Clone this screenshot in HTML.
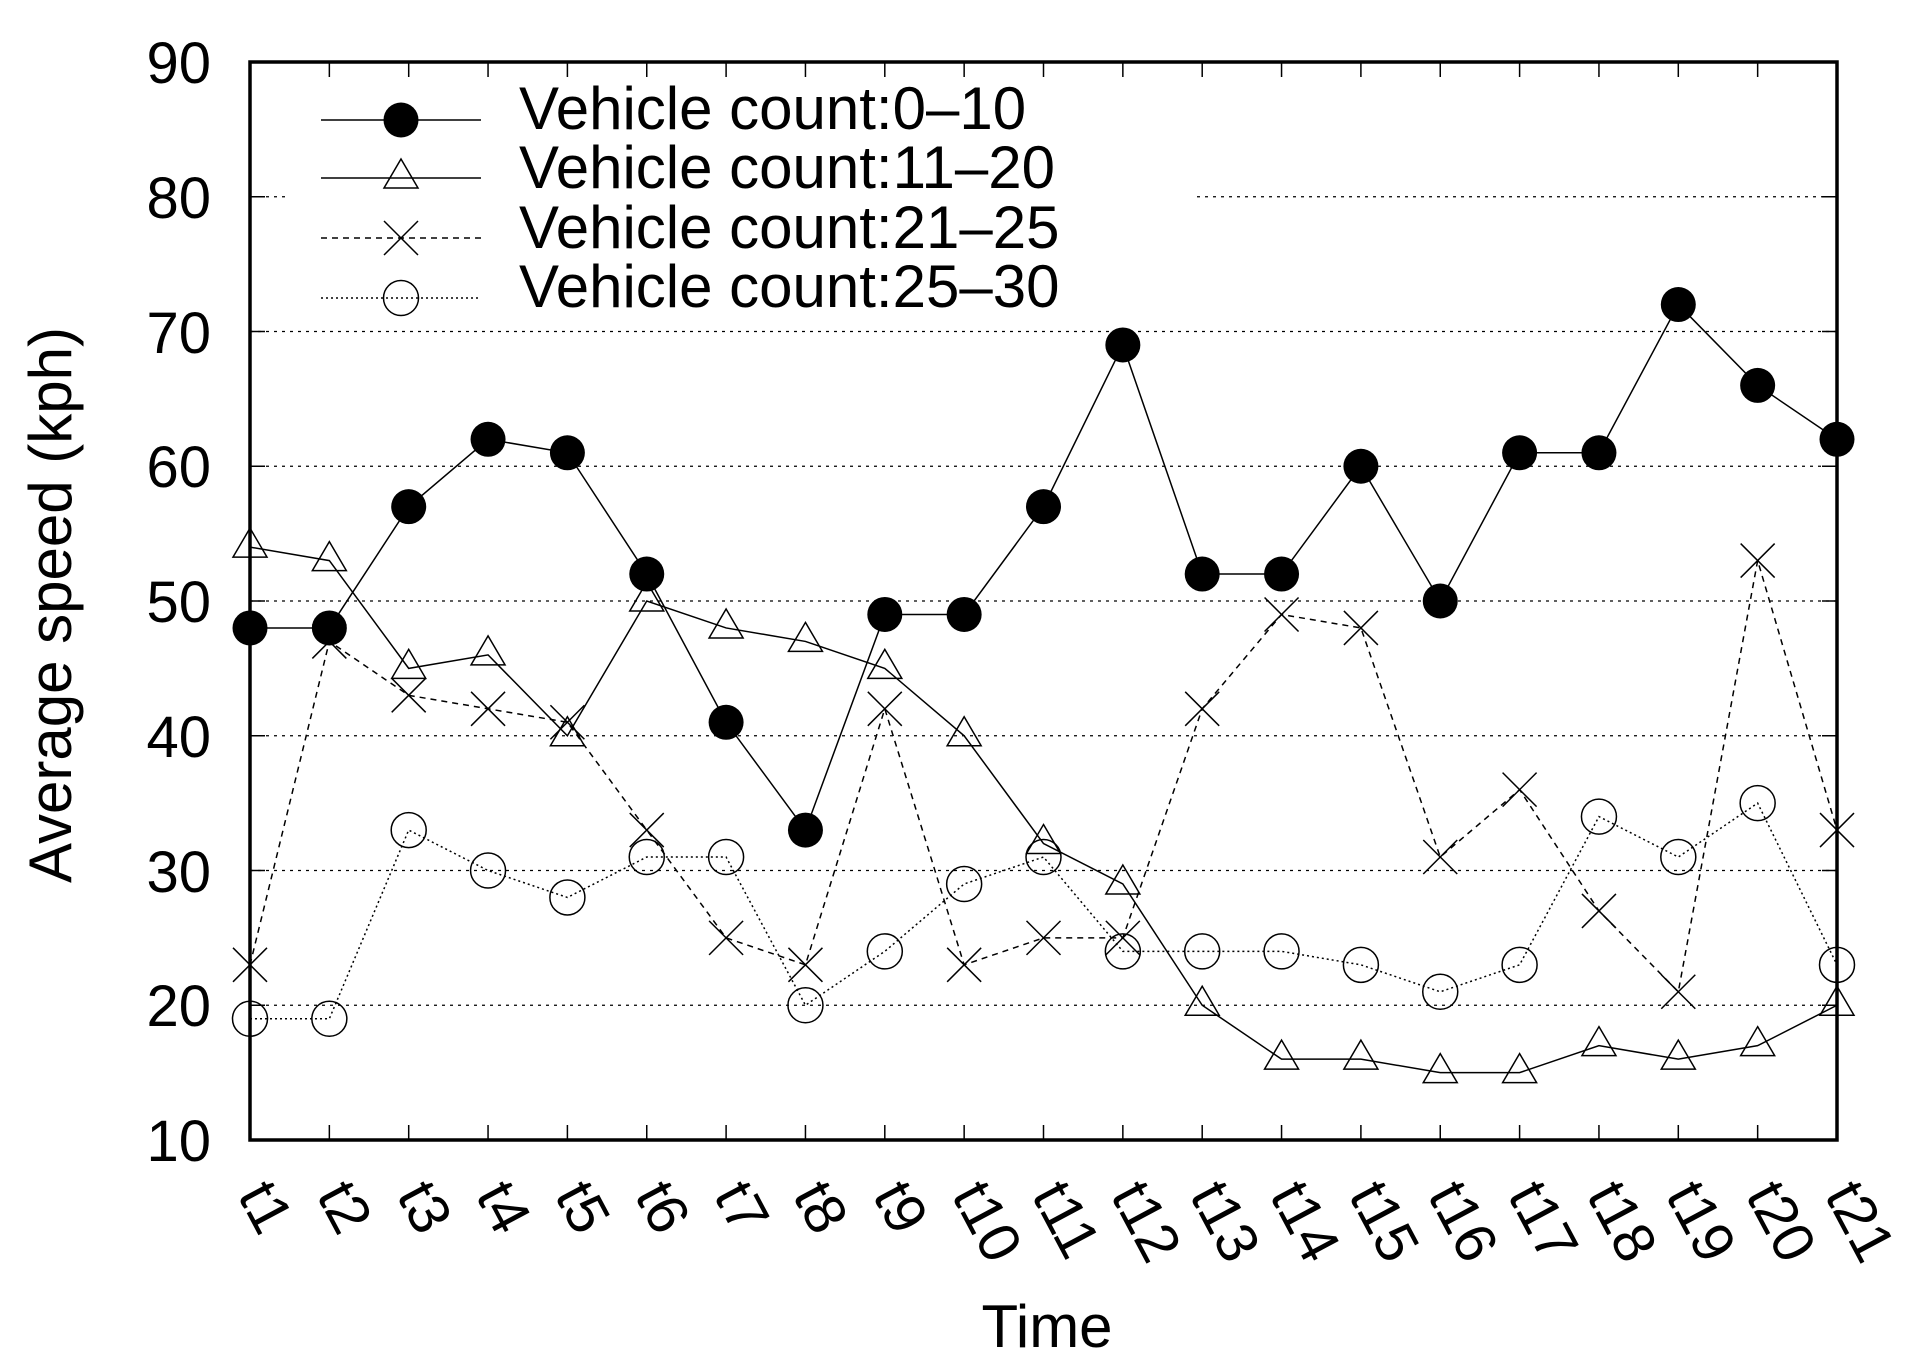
<!DOCTYPE html>
<html><head><meta charset="utf-8"><style>
html,body{margin:0;padding:0;background:#fff;}
svg{display:block;}
text{font-family:"Liberation Sans",Arial,sans-serif;fill:#000;}
</style></head><body>
<svg id="s" width="1915" height="1371" viewBox="0 0 1915 1371" xmlns="http://www.w3.org/2000/svg">
<rect width="1915" height="1371" fill="#fff"/>
<g id="grid"></g>
<g id="series"></g>
<g id="ticks"></g>
<rect x="250" y="62" width="1587" height="1078" fill="none" stroke="#000" stroke-width="3.5"/>
<g font-size="58" text-anchor="end">
<text x="211" y="83">90</text>
<text x="211" y="218">80</text>
<text x="211" y="353">70</text>
<text x="211" y="487">60</text>
<text x="211" y="622">50</text>
<text x="211" y="757">40</text>
<text x="211" y="892">30</text>
<text x="211" y="1026">20</text>
<text x="211" y="1161">10</text>
</g>
<g font-size="58">
<text transform="translate(237,1195) rotate(62)">t1</text>
<text transform="translate(316,1195) rotate(62)">t2</text>
<text transform="translate(396,1195) rotate(62)">t3</text>
<text transform="translate(475,1195) rotate(62)">t4</text>
<text transform="translate(554,1195) rotate(62)">t5</text>
<text transform="translate(634,1195) rotate(62)">t6</text>
<text transform="translate(713,1195) rotate(62)">t7</text>
<text transform="translate(792,1195) rotate(62)">t8</text>
<text transform="translate(872,1195) rotate(62)">t9</text>
<text transform="translate(951,1195) rotate(62)">t10</text>
<text transform="translate(1031,1195) rotate(62)">t11</text>
<text transform="translate(1110,1195) rotate(62)">t12</text>
<text transform="translate(1189,1195) rotate(62)">t13</text>
<text transform="translate(1269,1195) rotate(62)">t14</text>
<text transform="translate(1348,1195) rotate(62)">t15</text>
<text transform="translate(1427,1195) rotate(62)">t16</text>
<text transform="translate(1507,1195) rotate(62)">t17</text>
<text transform="translate(1586,1195) rotate(62)">t18</text>
<text transform="translate(1665,1195) rotate(62)">t19</text>
<text transform="translate(1745,1195) rotate(62)">t20</text>
<text transform="translate(1824,1195) rotate(62)">t21</text>
</g>
<text x="1047" y="1347" font-size="60" text-anchor="middle">Time</text>
<text transform="translate(71,605) rotate(-90)" font-size="60" text-anchor="middle">Average speed (kph)</text>
<g font-size="60">
<text x="519" y="129">Vehicle count:0–10</text>
<text x="519" y="188">Vehicle count:11–20</text>
<text x="519" y="248">Vehicle count:21–25</text>
<text x="519" y="307">Vehicle count:25–30</text>
</g>
<g id="legend"></g>
</svg>
<script>
(function(){
var NS="http://www.w3.org/2000/svg";
function el(p,t,a){var e=document.createElementNS(NS,t);for(var k in a)e.setAttribute(k,a[k]);p.appendChild(e);return e;}
var L=250,R=1837,T=62,B=1140;
function X(i){return L+i*(R-L)/20;}
function Y(v){return T+(90-v)*(B-T)/80;}
var g=document.getElementById('grid'),tk=document.getElementById('ticks'),sr=document.getElementById('series'),lg=document.getElementById('legend');
for(var v=20;v<=80;v+=10){
  var y=Y(v);
  if(v==80){
    el(g,'line',{x1:L,y1:y,x2:287,y2:y,stroke:'#000','stroke-width':1.3,'stroke-dasharray':'3,5'});
    el(g,'line',{x1:1197,y1:y,x2:R,y2:y,stroke:'#000','stroke-width':1.3,'stroke-dasharray':'3,5'});
  } else el(g,'line',{x1:L,y1:y,x2:R,y2:y,stroke:'#000','stroke-width':1.3,'stroke-dasharray':'3,5'});
}
for(var v=10;v<=90;v+=10){var y=Y(v);
  el(tk,'line',{x1:L,y1:y,x2:L+15,y2:y,stroke:'#000','stroke-width':1.5});
  el(tk,'line',{x1:R-15,y1:y,x2:R,y2:y,stroke:'#000','stroke-width':1.5});}
for(var i=0;i<21;i++){var x=X(i);
  el(tk,'line',{x1:x,y1:B,x2:x,y2:B-15,stroke:'#000','stroke-width':1.5});
  el(tk,'line',{x1:x,y1:T,x2:x,y2:T+15,stroke:'#000','stroke-width':1.5});}
var S=[
 {d:[48,48,57,62,61,52,41,33,49,49,57,69,52,52,60,50,61,61,72,66,62],dash:null,m:'fc'},
 {d:[54,53,45,46,40,50,48,47,45,40,32,29,20,16,16,15,15,17,16,17,20],dash:null,m:'tri'},
 {d:[23,47,43,42,41,33,25,23,42,23,25,25,42,49,48,31,36,27,21,53,33],dash:'6,5',m:'x'},
 {d:[19,19,33,30,28,31,31,20,24,29,31,24,24,24,23,21,23,34,31,35,23],dash:'2,3',m:'oc'}];
function mark(p,m,x,y){
  if(m=='fc')el(p,'circle',{cx:x,cy:y,r:17.5,fill:'#000'});
  else if(m=='oc')el(p,'circle',{cx:x,cy:y,r:17.5,fill:'none',stroke:'#000','stroke-width':1.5});
  else if(m=='tri')el(p,'polygon',{points:(x)+','+(y-19)+' '+(x+17)+','+(y+10)+' '+(x-17)+','+(y+10),fill:'none',stroke:'#000','stroke-width':1.5});
  else {el(p,'line',{x1:x-17,y1:y-17,x2:x+17,y2:y+17,stroke:'#000','stroke-width':1.5});
        el(p,'line',{x1:x-17,y1:y+17,x2:x+17,y2:y-17,stroke:'#000','stroke-width':1.5});}
}
var ly=[120,178,238,298];
S.forEach(function(s,k){
  var pts=s.d.map(function(v,i){return X(i)+','+Y(v);}).join(' ');
  var a={points:pts,fill:'none',stroke:'#000','stroke-width':1.5};
  if(s.dash)a['stroke-dasharray']=s.dash;
  el(sr,'polyline',a);
  s.d.forEach(function(v,i){mark(sr,s.m,X(i),Y(v));});
  var b={x1:321,y1:ly[k],x2:481,y2:ly[k],stroke:'#000','stroke-width':1.5};
  if(s.dash)b['stroke-dasharray']=s.dash;
  el(lg,'line',b);
  mark(lg,s.m,401,ly[k]);
});
})();
</script>
</body></html>
